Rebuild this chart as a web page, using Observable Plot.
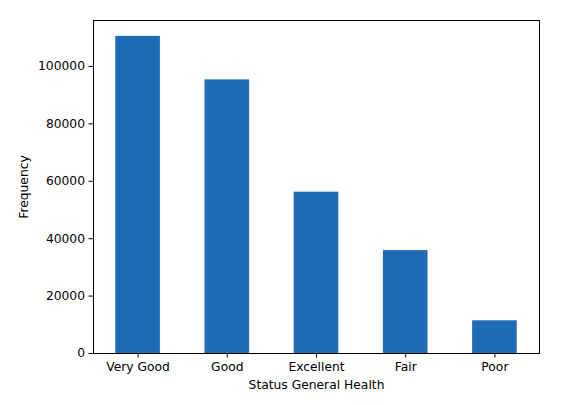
<!DOCTYPE html>
<html>
<head>
<meta charset="utf-8">
<script src="https://cdn.jsdelivr.net/npm/d3@7"></script>
<script src="https://cdn.jsdelivr.net/npm/@observablehq/plot@0.6"></script>
<style>
  html, body { margin: 0; padding: 0; background: #fff; }
  svg { display: block; }
</style>
</head>
<body>
<div id="chart"></div>
<script>
const categories = ["Very Good", "Good", "Excellent", "Fair", "Poor"];
const frequencies = [110480, 95320, 56200, 35840, 11390];
const yTicks = [0, 20000, 40000, 60000, 80000, 100000];

const data = categories.map((c, i) => ({category: c, count: frequencies[i]}));
const yMax = d3.max(frequencies) * 1.05;

const chart = Plot.plot({
  width: 576,
  height: 405,
  marginLeft: 93,
  marginRight: 37,
  marginTop: 20,
  marginBottom: 52,
  style: {fontFamily: "DejaVu Sans", fontSize: "12.3px", color: "#000", background: "#fff"},
  x: {
    domain: categories,
    paddingInner: 0.5,
    paddingOuter: 0.25,
    round: false,
    label: null
  },
  y: {
    domain: [0, yMax],
    ticks: yTicks,
    label: null
  },
  marks: [
    Plot.barY(data, {x: "category", y: "count", fill: "#1f6bb6"}),
    Plot.axisX({tickSize: 4.5, tickPadding: 4.5, fontSize: 12.3, stroke: "#000"}),
    Plot.axisY({ticks: yTicks, tickSize: 4.5, tickPadding: 4, tickFormat: d => String(d), fontSize: 12.3, stroke: "#000"}),
    Plot.text(["Status General Health"], {frameAnchor: "bottom", dy: 35, fontSize: 12.3, fill: "#000"}),
    Plot.text(["Frequency"], {frameAnchor: "left", textAnchor: "middle", rotate: -90, dx: -69, fontSize: 12.3, fill: "#000"}),
    Plot.frame({stroke: "#000", strokeWidth: 1})
  ]
});
document.getElementById("chart").appendChild(chart);
</script>
</body>
</html>
